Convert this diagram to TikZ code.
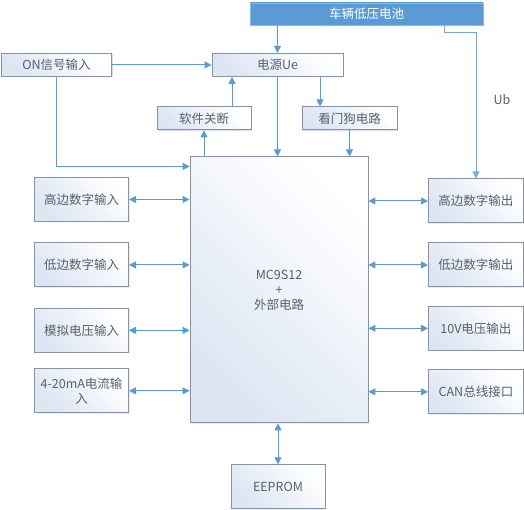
\documentclass[tikz,border=0pt]{standalone}
\usepackage{fontspec}
\setmainfont{Noto Sans CJK SC}
\usepackage{tikz}
\usetikzlibrary{shadows,arrows.meta,positioning,calc}
\definecolor{bordc}{HTML}{8295AC}
\definecolor{fillc}{HTML}{DCE5F2}
\definecolor{txtc}{HTML}{56616E}
\definecolor{linec}{HTML}{5B9BD5}
\tikzstyle{modul}=[draw=bordc, line width=0.9pt, top color=white, bottom color=fillc,
  shading angle=-45, text=txtc, align=center, minimum width=94pt,
  minimum height=44pt, inner sep=1pt, font=\fontsize{12.5}{15}\selectfont,
  drop shadow={opacity=0.15, shadow xshift=1pt, shadow yshift=-1pt}]
\tikzstyle{flach} = [modul, minimum height=23pt]
\tikzstyle{akku} = [flach, draw=linec!70, fill=linec, top color=linec, bottom color=linec, text=white]
\tikzstyle{line} = [draw, line width=1pt, color=linec, -{Triangle[length=7pt,width=7pt]}]
\tikzstyle{dline} = [line, {Triangle[length=7pt,width=7pt]}-{Triangle[length=7pt,width=7pt]}]
\newcommand{\etape}[3]{node (p#1)[modul,#2]{#3}}

\begin{document}
\begin{tikzpicture}[x=1pt,y=1pt]
  \useasboundingbox (0,0) rectangle (524,509);

  % Draw diagram elements
  \path (366.5,495) \etape{bat}{akku,minimum width=233pt,minimum height=22pt}{车辆低压电池};
  \path (pbat.south)+(-89,-39.5) \etape{ue}{flach,minimum width=131pt}{电源Ue};
  \path (pue.west)+(-155,0) \etape{on}{flach,minimum width=110pt}{ON信号输入};
  \path (pue.south)+(-73.5,-41.5) \etape{soft}{flach}{软件关断};
  \path (pue.south)+(72,-41.5) \etape{wd}{flach,minimum width=95pt}{看门狗电路};
  \path (pue.south)+(1.5,-213) \etape{mcu}{minimum width=178pt,minimum height=266pt}{MC9S12\\+\\外部电路};

  \path (pmcu.north west)+(-108,-43) \etape{in1}{}{高边数字输入};
  \path (pin1.south)+(0,-43) \etape{in2}{}{低边数字输入};
  \path (pin2.south)+(0,-43) \etape{in3}{}{模拟电压输入};
  \path (pin3.south)+(0,-38) \etape{in4}{}{4-20mA电流输\\入};

  \path (pmcu.north east)+(107.5,-44.5) \etape{out1}{minimum width=95pt}{高边数字输出};
  \path (pout1.south)+(0,-41.5) \etape{out2}{minimum width=95pt}{低边数字输出};
  \path (pout2.south)+(0,-41) \etape{out3}{minimum width=95pt}{10V电压输出};
  \path (pout3.south)+(0,-41) \etape{out4}{minimum width=95pt}{CAN总线接口};

  \path (pmcu.south)+(-1,-63.5) \etape{rom}{}{EEPROM};

  % Draw arrows between elements
  \path [line] (pue.north |- pbat.south) -- (pue.north);
  \path [line, line width=0.7pt, color=linec!85] ([xshift=77.5pt]pbat.south) -- ++(0,-7) -| (pout1.north);
  \node [text=txtc, font=\fontsize{12.5}{14}\selectfont] (ub) at (502,409) {Ub};
  \path [line] (pon.east) -- (pue.west);
  \path [line] (pon.south) |- ([yshift=-10pt]pmcu.north west);
  \path [line] ([xshift=28pt]psoft.north) -- ([xshift=28pt]psoft.north |- pue.south);
  \path [line] (psoft.south |- pmcu.north) -- (psoft.south);
  \path [line] (pue.south) -- (pue.south |- pmcu.north);
  \path [line] ([xshift=-29.5pt]pwd.north |- pue.south) -- ([xshift=-29.5pt]pwd.north);
  \path [line] (pwd.south) -- (pwd.south |- pmcu.north);

  \foreach \i in {1,...,4}{
    \path [dline] (pin\i.east) -- (pin\i.east -| pmcu.west);
    \path [dline] (pmcu.east |- pout\i.west) -- (pout\i.west);
  }
  \path [dline] (prom.north |- pmcu.south) -- (prom.north);

\end{tikzpicture}
\end{document}
